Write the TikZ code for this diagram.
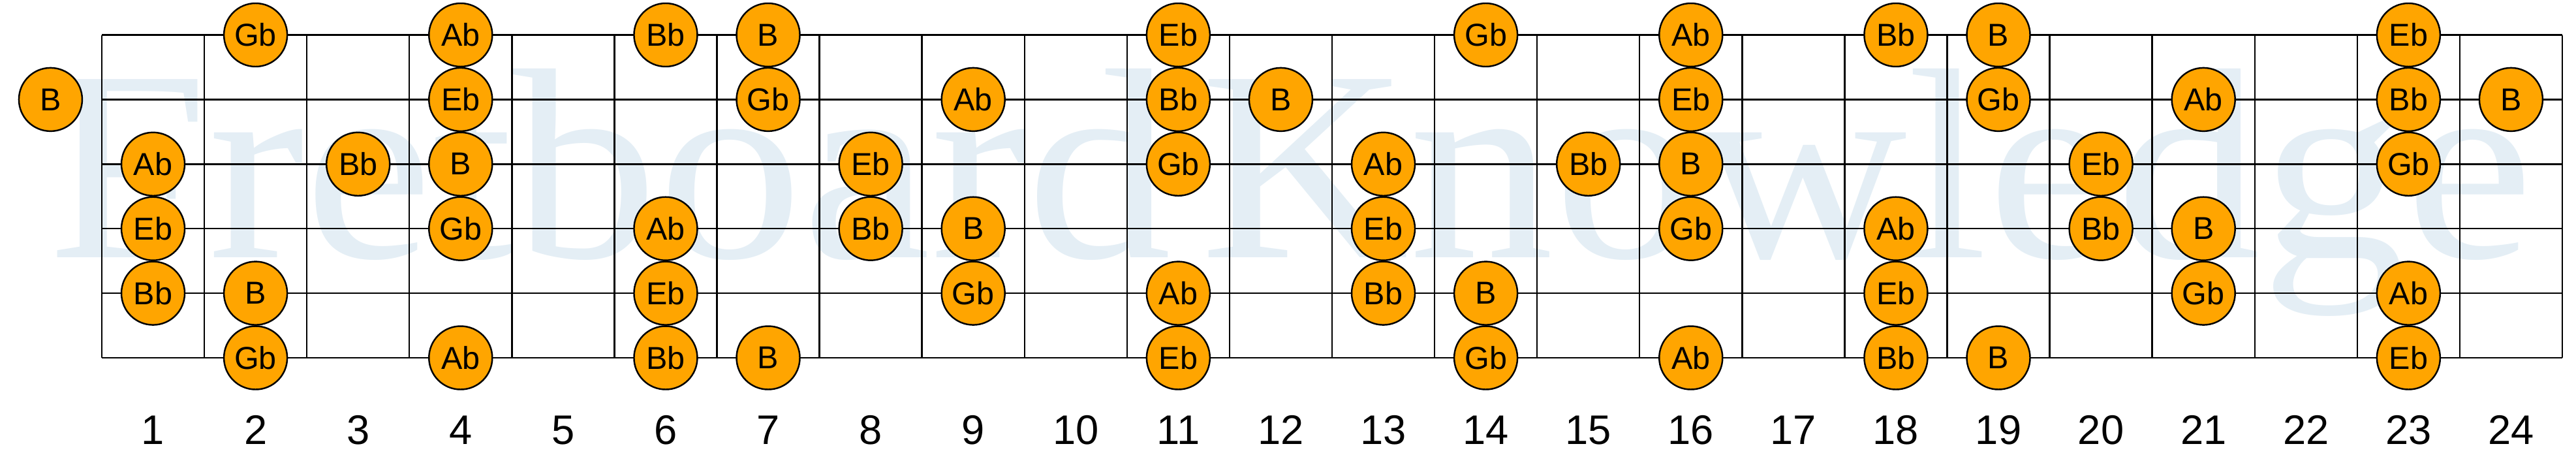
\documentclass[tikz,border=0pt]{standalone}
\usepackage{fontspec}
\setmainfont{Liberation Sans}
\newfontfamily\wmfont{Liberation Serif}
\usepackage{tikz}
\definecolor{notefill}{RGB}{255,165,0}
\definecolor{wmblue}{RGB}{228,238,245}

\begin{document}
\begin{tikzpicture}[x=1.5708cm, y=0.989cm,
    fretline/.style={line width=0.7pt},
    note/.style={circle, draw=black, line width=0.7pt, fill=notefill,
        minimum size=0.97cm, inner sep=0pt, font=\fontsize{13.8}{14}\selectfont},
    fretnum/.style={anchor=base, font=\fontsize{18}{18}\selectfont}]
    \useasboundingbox (-0.993,-1.567) rectangle (24.134,5.541);
    %% Watermark
    \node[anchor=base west, text=wmblue, inner sep=0pt,
        font=\wmfont\fontsize{118.6}{120}\selectfont] (wm) at (-0.535,1.557)
        {\scalebox{1.063}[1]{Fretboard\kern0.1emKnowledge}};
    %% Frets and strings
    \foreach \f in {0,...,24}
        \draw[fretline] (\f,0) -- (\f,5);
    \foreach \s in {0,...,5}
        \draw[fretline] (0,\s) -- (24,\s);
    %% Fret numbers
    \foreach \f in {1,...,24}
        \node[fretnum] (num\f) at (\f-0.5,-1.335) {\f};
    %% Notes
    \foreach \f/\y/\n in {0/4/B,
        1/3/Ab, 1/2/Eb, 1/1/Bb,
        2/5/Gb, 2/1/B, 2/0/Gb,
        3/3/Bb,
        4/5/Ab, 4/4/Eb, 4/3/B, 4/2/Gb, 4/0/Ab,
        6/5/Bb, 6/2/Ab, 6/1/Eb, 6/0/Bb,
        7/5/B, 7/4/Gb, 7/0/B,
        8/3/Eb, 8/2/Bb,
        9/4/Ab, 9/2/B, 9/1/Gb,
        11/5/Eb, 11/4/Bb, 11/3/Gb, 11/1/Ab, 11/0/Eb,
        12/4/B,
        13/3/Ab, 13/2/Eb, 13/1/Bb,
        14/5/Gb, 14/1/B, 14/0/Gb,
        15/3/Bb,
        16/5/Ab, 16/4/Eb, 16/3/B, 16/2/Gb, 16/0/Ab,
        18/5/Bb, 18/2/Ab, 18/1/Eb, 18/0/Bb,
        19/5/B, 19/4/Gb, 19/0/B,
        20/3/Eb, 20/2/Bb,
        21/4/Ab, 21/2/B, 21/1/Gb,
        23/5/Eb, 23/4/Bb, 23/3/Gb, 23/1/Ab, 23/0/Eb,
        24/4/B}
        \node[note] (n\f-\y) at (\f-0.5,\y) {\n};
\end{tikzpicture}
\end{document}
